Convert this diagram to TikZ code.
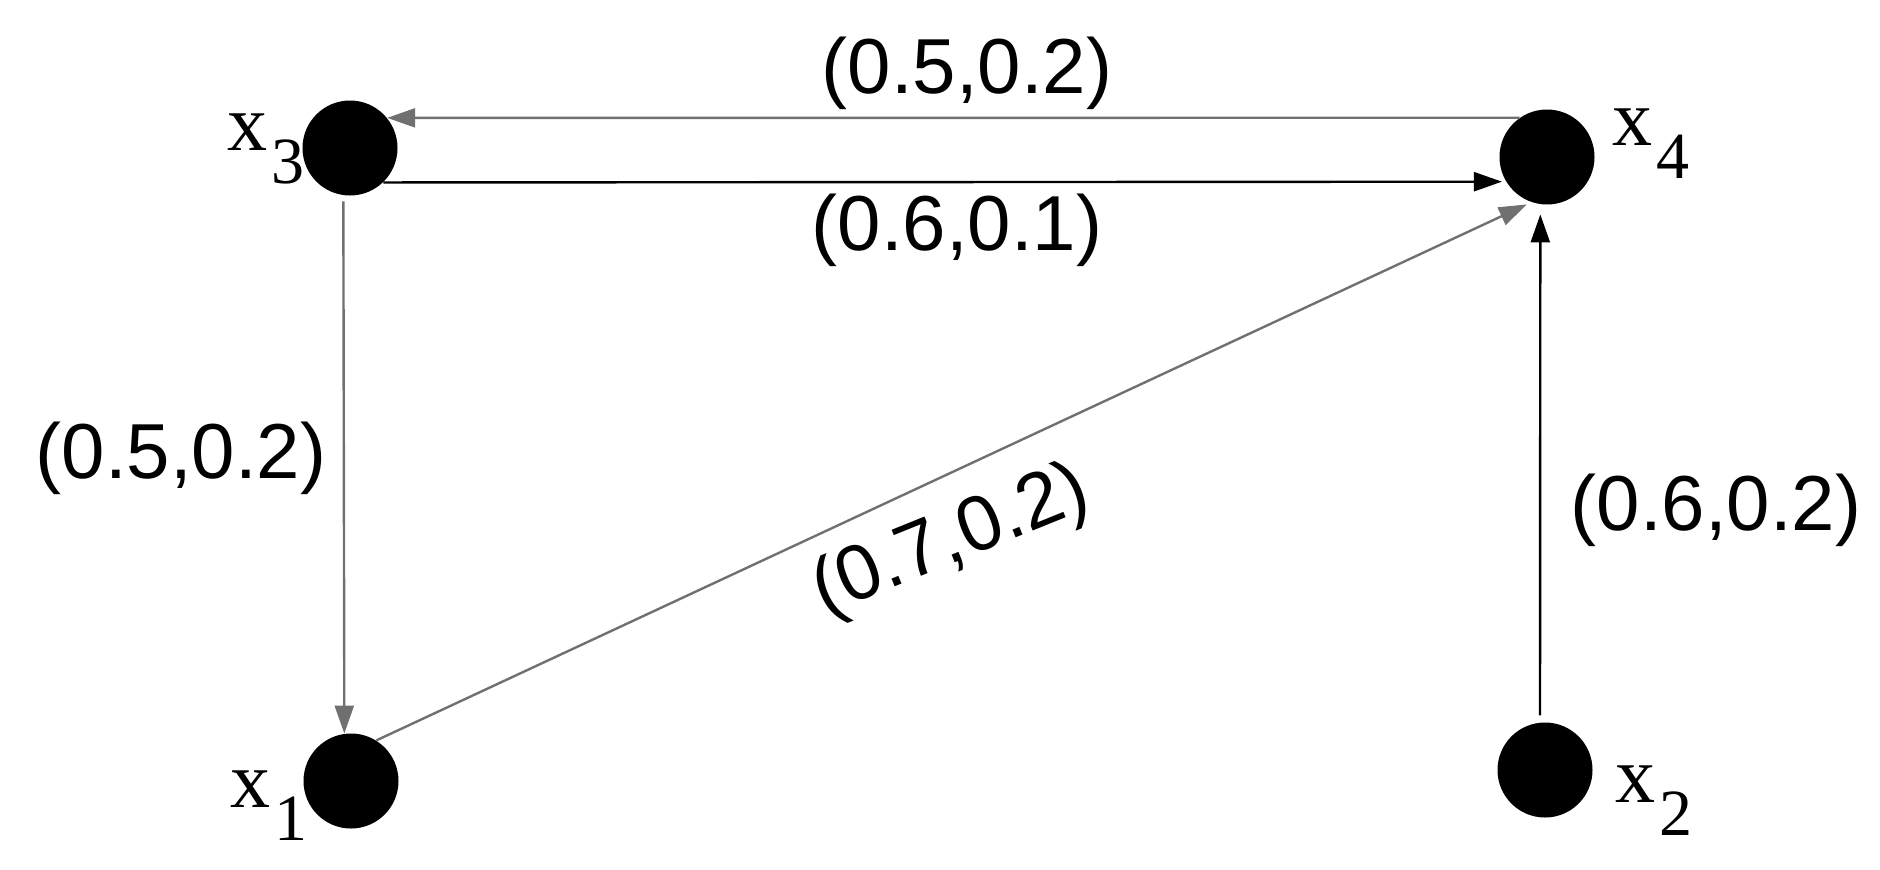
\documentclass[tikz,border=0pt]{standalone}
\usepackage{fontspec}
\setmainfont{Liberation Serif}
\newfontfamily\labfont{Liberation Sans}
\usetikzlibrary{arrows.meta}
\definecolor{edgegray}{HTML}{707070}
\tikzset{
  vertex/.style={circle, fill=black, draw=none, inner sep=0pt, minimum size=47.5pt},
  vlabel/.style={anchor=base west, inner sep=0pt, font=\fontsize{40}{40}\selectfont},
  elabel/.style={anchor=base, inner sep=0pt, font=\labfont\fontsize{39}{39}\selectfont},
  arr/.style={-{Triangle[length=14pt,width=9.5pt]}, line width=1.2pt},
  grayarr/.style={arr, draw=edgegray},
  blackarr/.style={arr, draw=black},
}
\newcommand{\vsub}[1]{\raisebox{-16.5pt}{\fontsize{33}{33}\selectfont #1}}
\begin{document}
\begin{tikzpicture}[x=0.5pt, y=-0.5pt]
\useasboundingbox (0,0) rectangle (1880,869);
\node[vertex] (x3) at (350,148) {};
\node[vertex] (x4) at (1547,157) {};
\node[vertex] (x1) at (351,781) {};
\node[vertex] (x2) at (1545,770) {};
\node[vlabel] (l3) at (227,150) {x\hspace{2pt}\vsub{3}};
\node[vlabel] (l4) at (1612,145) {x\hspace{2pt}\vsub{4}};
\node[vlabel] (l1) at (230,807) {x\hspace{2pt}\vsub{1}};
\node[vlabel] (l2) at (1615,802) {x\hspace{2pt}\vsub{2}};
\draw[grayarr] (x4.125.7) -- (x3.39);
\draw[blackarr, shorten >=2pt] (x3.-46) -- (x4.211);
\draw[grayarr, shorten <=3pt] (x3.262.7) -- (x1.98.6);
\draw[grayarr, shorten >=2.5pt] (x1.58.8) -- (x4.251.2);
\draw[blackarr, shorten <=3.5pt, shorten >=5pt] (x2.96) -- (x4.262);
\node[elabel] (e34) at (967,93) {(0.5,0.2)};
\node[elabel] (e43) at (957,250) {(0.6,0.1)};
\node[elabel] (e31) at (181,478) {(0.5,0.2)};
\node[elabel] (e24) at (1716,530) {(0.6,0.2)};
\node[elabel, rotate=22] (e14) at (959,561) {(0.7,0.2)};
\end{tikzpicture}
\end{document}
